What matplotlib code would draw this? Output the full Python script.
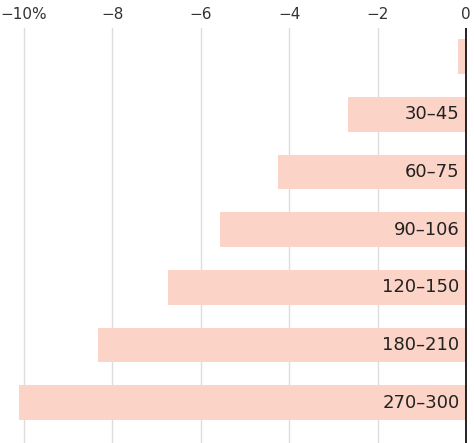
import matplotlib.pyplot as plt

groups = ["0-15", "30–45", "60–75", "90–106", "120–150", "180–210", "270–300"]
values = [-0.18, -2.67, -4.25, -5.57, -6.74, -8.33, -10.1]
ticks = [-10, -8, -6, -4, -2, 0]
tick_labels = ["−10%", "−8", "−6", "−4", "−2", "0"]

fig = plt.figure(figsize=(4.74, 4.43), dpi=100)
ax = fig.add_axes([0, 0, 1, 0.937])
pos = list(range(len(groups)))
ax.barh(pos, values, height=0.6, color="#fcd3c7", zorder=2)
for i, (g, v) in enumerate(zip(groups, values)):
    if i == 0:
        continue
    ax.text(-0.15, i, g, ha="right", va="center", fontsize=13, color="#222222", zorder=3)
for t in ticks[:-1]:
    ax.axvline(t, color="#dddddd", lw=1, zorder=1)
ax.axvline(0, color="#111111", lw=1.3, zorder=4)
ax.set_xlim(-10.54, 0.18)
ax.set_ylim(6.7, -0.5)
ax.set_yticks([])
ax.xaxis.tick_top()
ax.set_xticks(ticks)
ax.set_xticklabels(tick_labels, fontsize=11, color="#333333")
ax.tick_params(axis="x", length=0, pad=4)
for s in ax.spines.values():
    s.set_visible(False)
fig.savefig("out.png", dpi=100)
